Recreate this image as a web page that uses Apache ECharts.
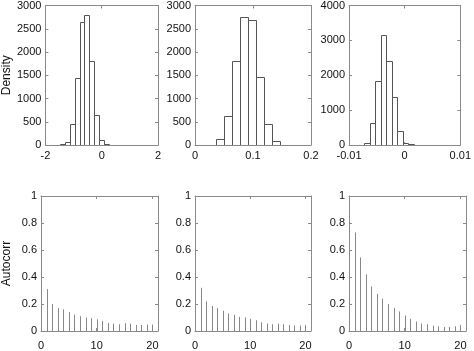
<!DOCTYPE html>
<html><head><meta charset="utf-8">
<script src="https://cdn.jsdelivr.net/npm/echarts@6/dist/echarts.min.js"></script>
<style>html,body{margin:0;padding:0;background:#fff}#c{width:474px;height:351px}</style>
</head><body><div id="c"></div>
<script>
// Histogram 1
const h1Centers = [-1.39, -1.22, -1.05, -0.87, -0.70, -0.53, -0.36, -0.18, -0.01, 0.16];
const h1Counts  = [15, 70, 450, 1450, 2650, 2800, 1800, 650, 110, 25];
const h1Width = 0.173;
// Histogram 2
const h2Centers = [0.0298, 0.0435, 0.0572, 0.0709, 0.0846, 0.0983, 0.1120, 0.1257, 0.1394, 0.1531];
const h2Counts  = [10, 120, 620, 1800, 2760, 2680, 1460, 450, 90, 10];
const h2Width = 0.0137;
// Histogram 3
const h3Centers = [-0.00775, -0.00676, -0.00577, -0.00478, -0.00379, -0.00280, -0.00181, -0.00082, 0.00017, 0.00116];
const h3Counts  = [10, 60, 620, 1830, 3150, 2400, 1380, 400, 70, 15];
const h3Width = 0.00099;
// Autocorrelations, lags 1..20
const lags = [1,2,3,4,5,6,7,8,9,10,11,12,13,14,15,16,17,18,19,20];
const ac1 = [0.31,0.20,0.17,0.16,0.14,0.12,0.11,0.10,0.095,0.087,0.075,0.06,0.055,0.05,0.058,0.055,0.045,0.045,0.048,0.048];
const ac2 = [0.32,0.22,0.185,0.17,0.15,0.13,0.12,0.105,0.10,0.09,0.08,0.065,0.055,0.05,0.055,0.05,0.045,0.04,0.04,0.045];
const ac3 = [0.73,0.545,0.42,0.33,0.275,0.24,0.20,0.17,0.145,0.115,0.09,0.07,0.055,0.05,0.04,0.035,0.03,0.03,0.035,0.045];

const chart = echarts.init(document.getElementById('c'), null, {renderer:'canvas'});
const FONT = 'Liberation Sans';
const axisGray = '#8a8a8a';
const txt = '#111';

const grids = [
  {left:41, top:5, width:117, height:140},
  {left:195, top:5, width:116, height:140},
  {left:349, top:5, width:117, height:140},
  {left:41, top:196, width:117, height:142},
  {left:195, top:196, width:116, height:142},
  {left:349, top:196, width:117, height:142}
];
const xr = [[-2,2,2],[0,0.2,0.1],[-0.01,0.01,0.01],[0,21,10],[0,21,10],[0,21,10]];
const yr = [[0,3000,500],[0,3000,500],[0,4000,1000],[0,1,0.2],[0,1,0.2],[0,1,0.2]];

const xAxis = [], yAxis = [];
grids.forEach((g,i)=>{
  const line = {show:true, onZero:false, lineStyle:{color:axisGray, width:1}};
  const tick = {show:true, inside:true, length:3, lineStyle:{color:axisGray}};
  xAxis.push({gridIndex:i, type:'value', position:'bottom', min:xr[i][0], max:xr[i][1], interval:xr[i][2],
    axisLine:line, axisTick:tick, splitLine:{show:false},
    axisLabel:{show:true, color:txt, fontFamily:FONT, fontSize:11, margin: i<3 ? 5 : 9, showMaxLabel: i<3,
      formatter: v => (i>=3 && v%10!==0) ? '' : String(v)}});
  xAxis.push({gridIndex:i, type:'value', position:'top', min:xr[i][0], max:xr[i][1], interval:xr[i][2],
    axisLine:line, axisTick:tick, splitLine:{show:false}, axisLabel:{show:false}});
  yAxis.push({gridIndex:i, type:'value', position:'left', min:yr[i][0], max:yr[i][1], interval:yr[i][2],
    axisLine:line, axisTick:tick, splitLine:{show:false},
    axisLabel:{show:true, color:txt, fontFamily:FONT, fontSize:11, margin:4,
      formatter: v => (i===2 && v%1000!==0) ? '' : String(v)},
    name: i===0 ? 'Density' : (i===3 ? 'Autocorr' : ''),
    nameLocation:'middle', nameGap:28, nameRotate:90,
    nameTextStyle:{color:txt, fontFamily:FONT, fontSize:12}});
  yAxis.push({gridIndex:i, type:'value', position:'right', min:yr[i][0], max:yr[i][1], interval:yr[i][2],
    axisLine:line, axisTick:tick, splitLine:{show:false}, axisLabel:{show:false}});
});

function histSeries(idx, centers, counts, w){
  return {type:'custom', xAxisIndex:idx*2, yAxisIndex:idx*2,
    data: centers.map((c,k)=>[c, counts[k]]),
    clip:true,
    renderItem:(params, api)=>{
      const c = api.value(0), v = api.value(1);
      const p0 = api.coord([c - w/2, 0]);
      const p1 = api.coord([c + w/2, v]);
      return {type:'rect', shape:{x:Math.round(p0[0])+0.5, y:Math.round(p1[1])+0.5, width:Math.round(p1[0])-Math.round(p0[0]), height:Math.round(p0[1])-Math.round(p1[1])},
        style:{fill:'#fff', stroke:'#555', lineWidth:1}};
    }};
}
function stemSeries(idx, vals){
  return {type:'custom', xAxisIndex:idx*2, yAxisIndex:idx*2,
    data: lags.map((l,k)=>[l, vals[k]]),
    renderItem:(params, api)=>{
      const p0 = api.coord([api.value(0), 0]);
      const p1 = api.coord([api.value(0), api.value(1)]);
      const x = Math.round(p0[0])+0.5;
      return {type:'line', shape:{x1:x, y1:p0[1], x2:x, y2:p1[1]}, style:{stroke:'#888', lineWidth:1}};
    }};
}

chart.setOption({
  animation:false,
  grid: grids,
  xAxis, yAxis,
  series:[
    histSeries(0,h1Centers,h1Counts,h1Width),
    histSeries(1,h2Centers,h2Counts,h2Width),
    histSeries(2,h3Centers,h3Counts,h3Width),
    stemSeries(3,ac1), stemSeries(4,ac2), stemSeries(5,ac3)
  ]
});
</script></body></html>
